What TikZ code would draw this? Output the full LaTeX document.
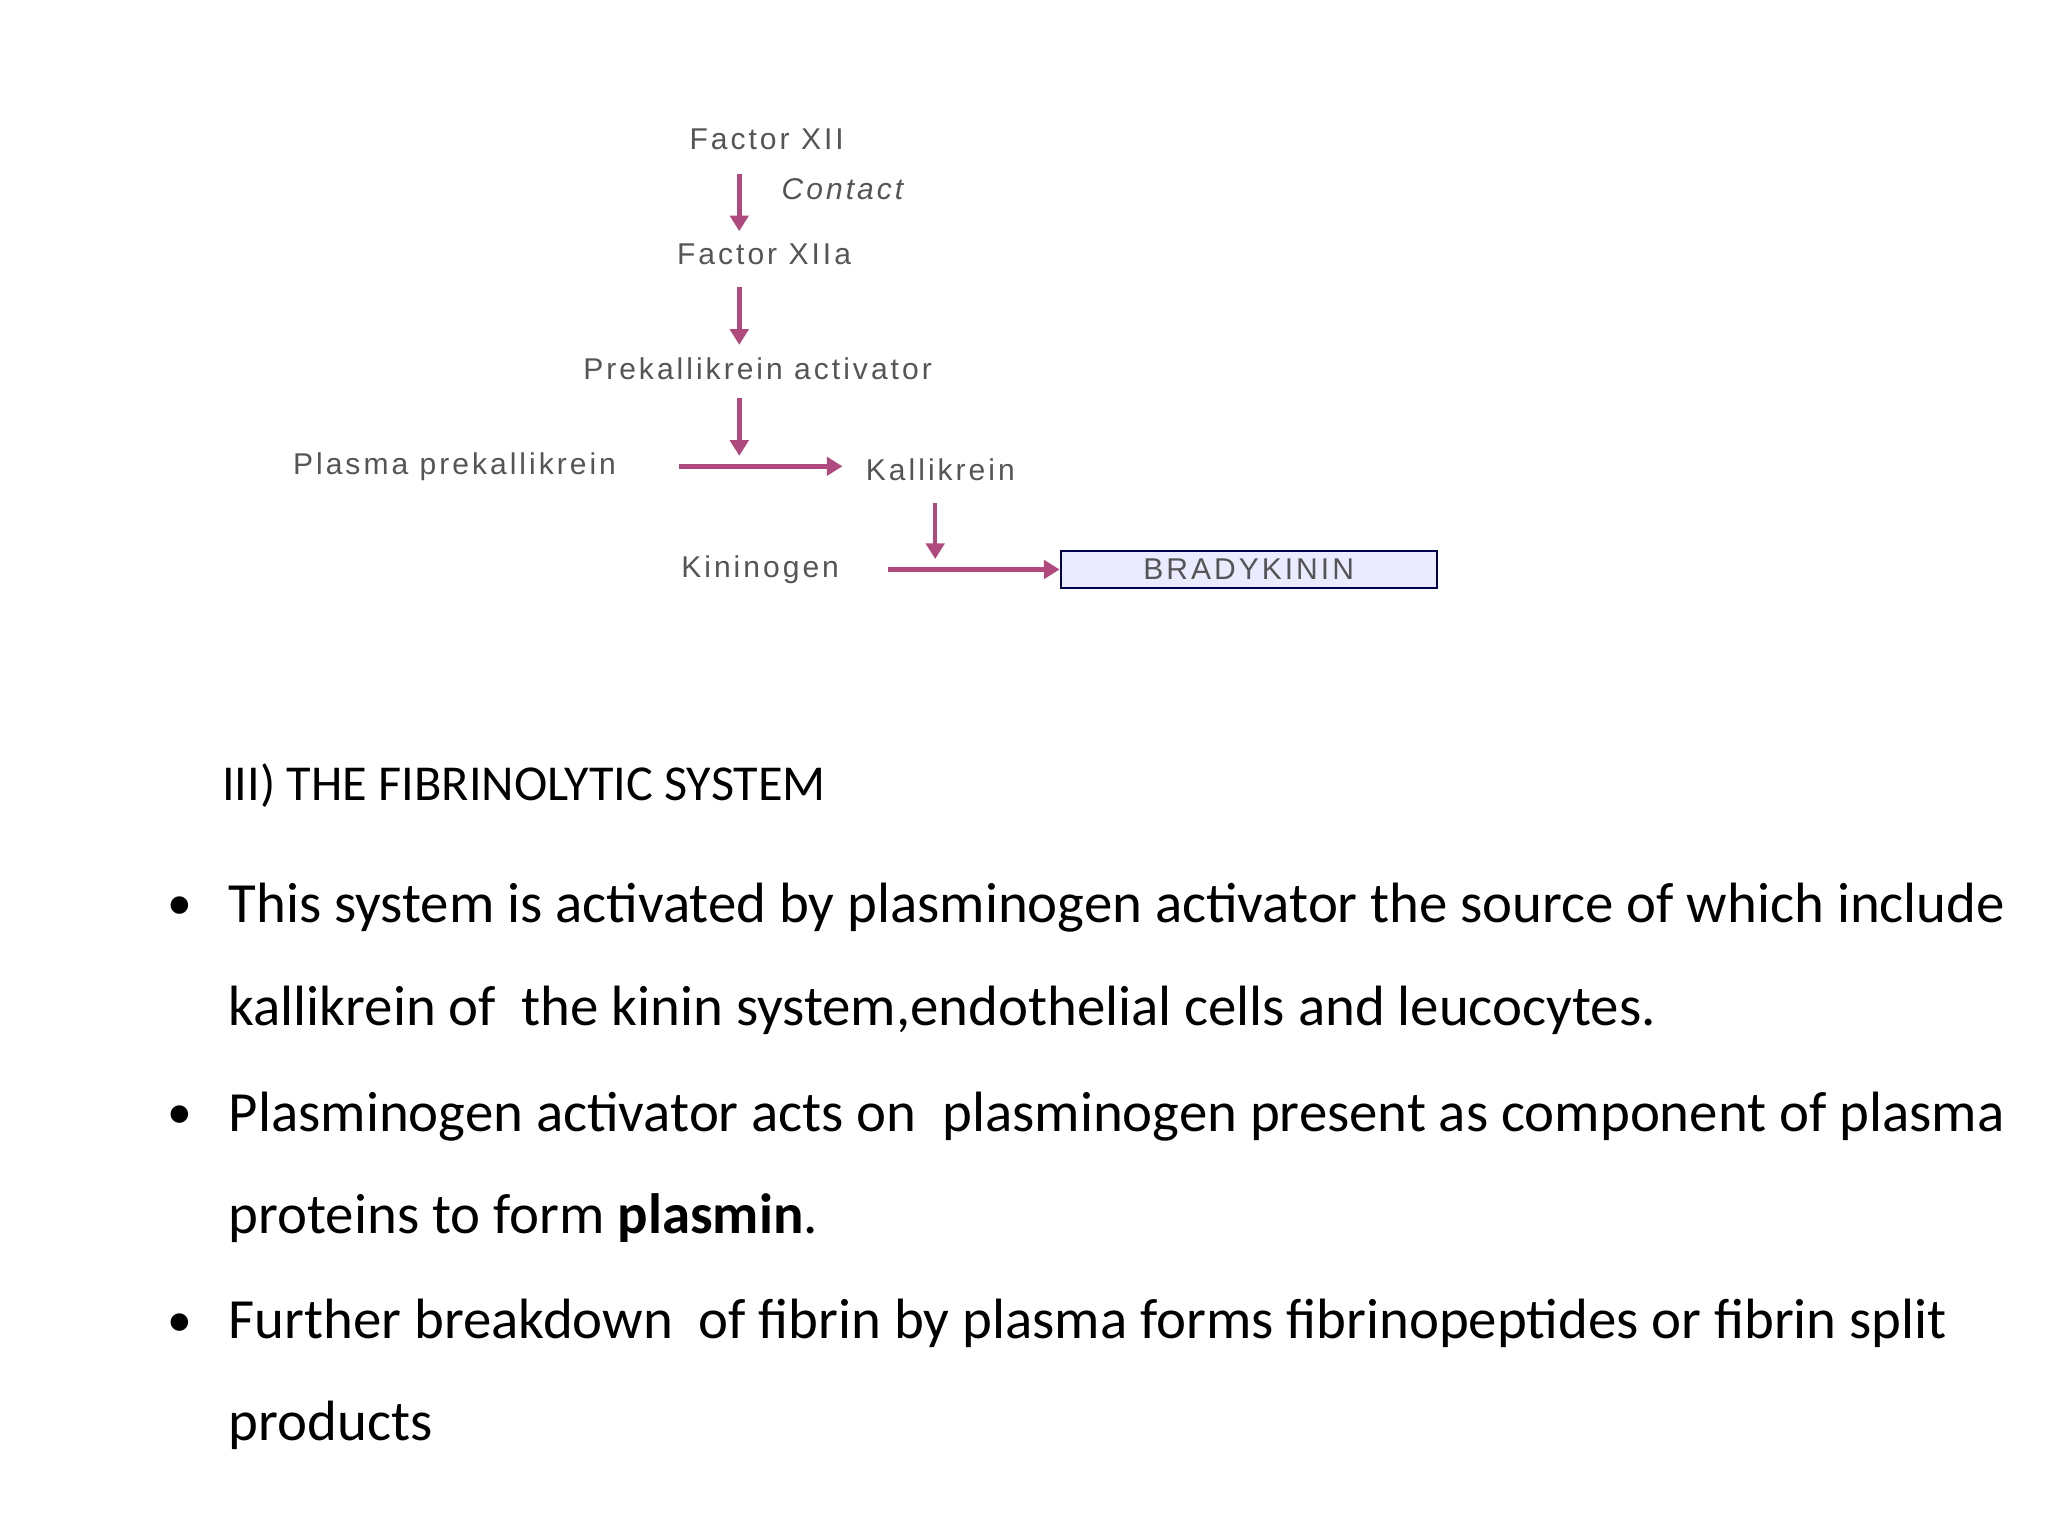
\documentclass[tikz,border=0pt]{standalone}
\usepackage{fontspec}
\setmainfont{Carlito}
\newfontfamily\dia[LetterSpace=10]{Liberation Sans}
\usetikzlibrary{arrows.meta}
\definecolor{arr}{HTML}{B04A7E}
\definecolor{dtxt}{HTML}{555555}
\tikzset{
  dlab/.style={font=\dia\fontsize{23}{26}\selectfont, text=dtxt, inner sep=0},
  flow/.style={draw=arr, line width=3.5pt, -{Triangle[length=12pt,width=14pt]}},
  body/.style={font=\fontsize{43.5}{50}\selectfont, anchor=base west, inner sep=0},
}
\begin{document}
\begin{tikzpicture}[x=1pt,y=-1pt]
\fill[white] (0,0) rectangle (1568,1176);
\useasboundingbox (0,0) rectangle (1568,1176);
\node[dlab] (f12) at (587,107) {Factor XII};
\node[dlab, font=\dia\itshape\fontsize{23}{26}\selectfont] (ct) at (645,145) {Contact};
\node[dlab] (f12a) at (585,195) {Factor XIIa};
\node[dlab] (pka) at (580,282) {Prekallikrein activator};
\node[dlab] (ppk) at (348,357) {Plasma prekallikrein};
\node[dlab] (kal) at (720,360) {Kallikrein};
\node[dlab] (kin) at (582,436) {Kininogen};
\node[draw=black!70!blue, line width=1.5pt, fill=blue!8, minimum width=288pt, minimum height=29pt, inner sep=0,
  font=\dia\fontsize{23}{26}\selectfont, text=dtxt] (bk) at (956,436) {BRADYKININ};
\coordinate (a1s) at (566,133); \coordinate (a1e) at (566,177);
\coordinate (a2s) at (566,220); \coordinate (a2e) at (566,264);
\coordinate (a3s) at (566,305); \coordinate (a3e) at (566,349);
\coordinate (a4s) at (716,385); \coordinate (a4e) at (716,428);
\coordinate (h1s) at (520,357);
\draw[flow] (a1s) -- (a1e);
\draw[flow] (a2s) -- (a2e);
\draw[flow] (a3s) -- (a3e);
\draw[flow] (a4s) -- (a4e);
\draw[flow] (h1s) -- (645,357);
\draw[flow] (680,436) -- (bk.west);
\node[font=\fontsize{38.5}{44}\selectfont, anchor=base west, inner sep=0] (hd) at (170,613) {III) THE FIBRINOLYTIC SYSTEM};
\node[body, font=\fontsize{38}{44}\selectfont] (b1) at (128,704) {•};
\node[body] (l1) at (175,706) {This system is activated by plasminogen activator the source of which include};
\node[body] (l2) at (175,785) {kallikrein of\ \ the kinin system,endothelial cells and leucocytes.};
\node[body, font=\fontsize{38}{44}\selectfont] (b2) at (128,864) {•};
\node[body] (l3) at (175,866) {Plasminogen activator acts on\ \ plasminogen present as component of plasma};
\node[body] (l4) at (175,944) {proteins to form \textbf{plasmin}.};
\node[body, font=\fontsize{38}{44}\selectfont] (b3) at (128,1023) {•};
\node[body] (l5) at (175,1025) {Further breakdown\ \ of fibrin by plasma forms fibrinopeptides or fibrin split};
\node[body] (l6) at (175,1103) {products};
\end{tikzpicture}
\end{document}
